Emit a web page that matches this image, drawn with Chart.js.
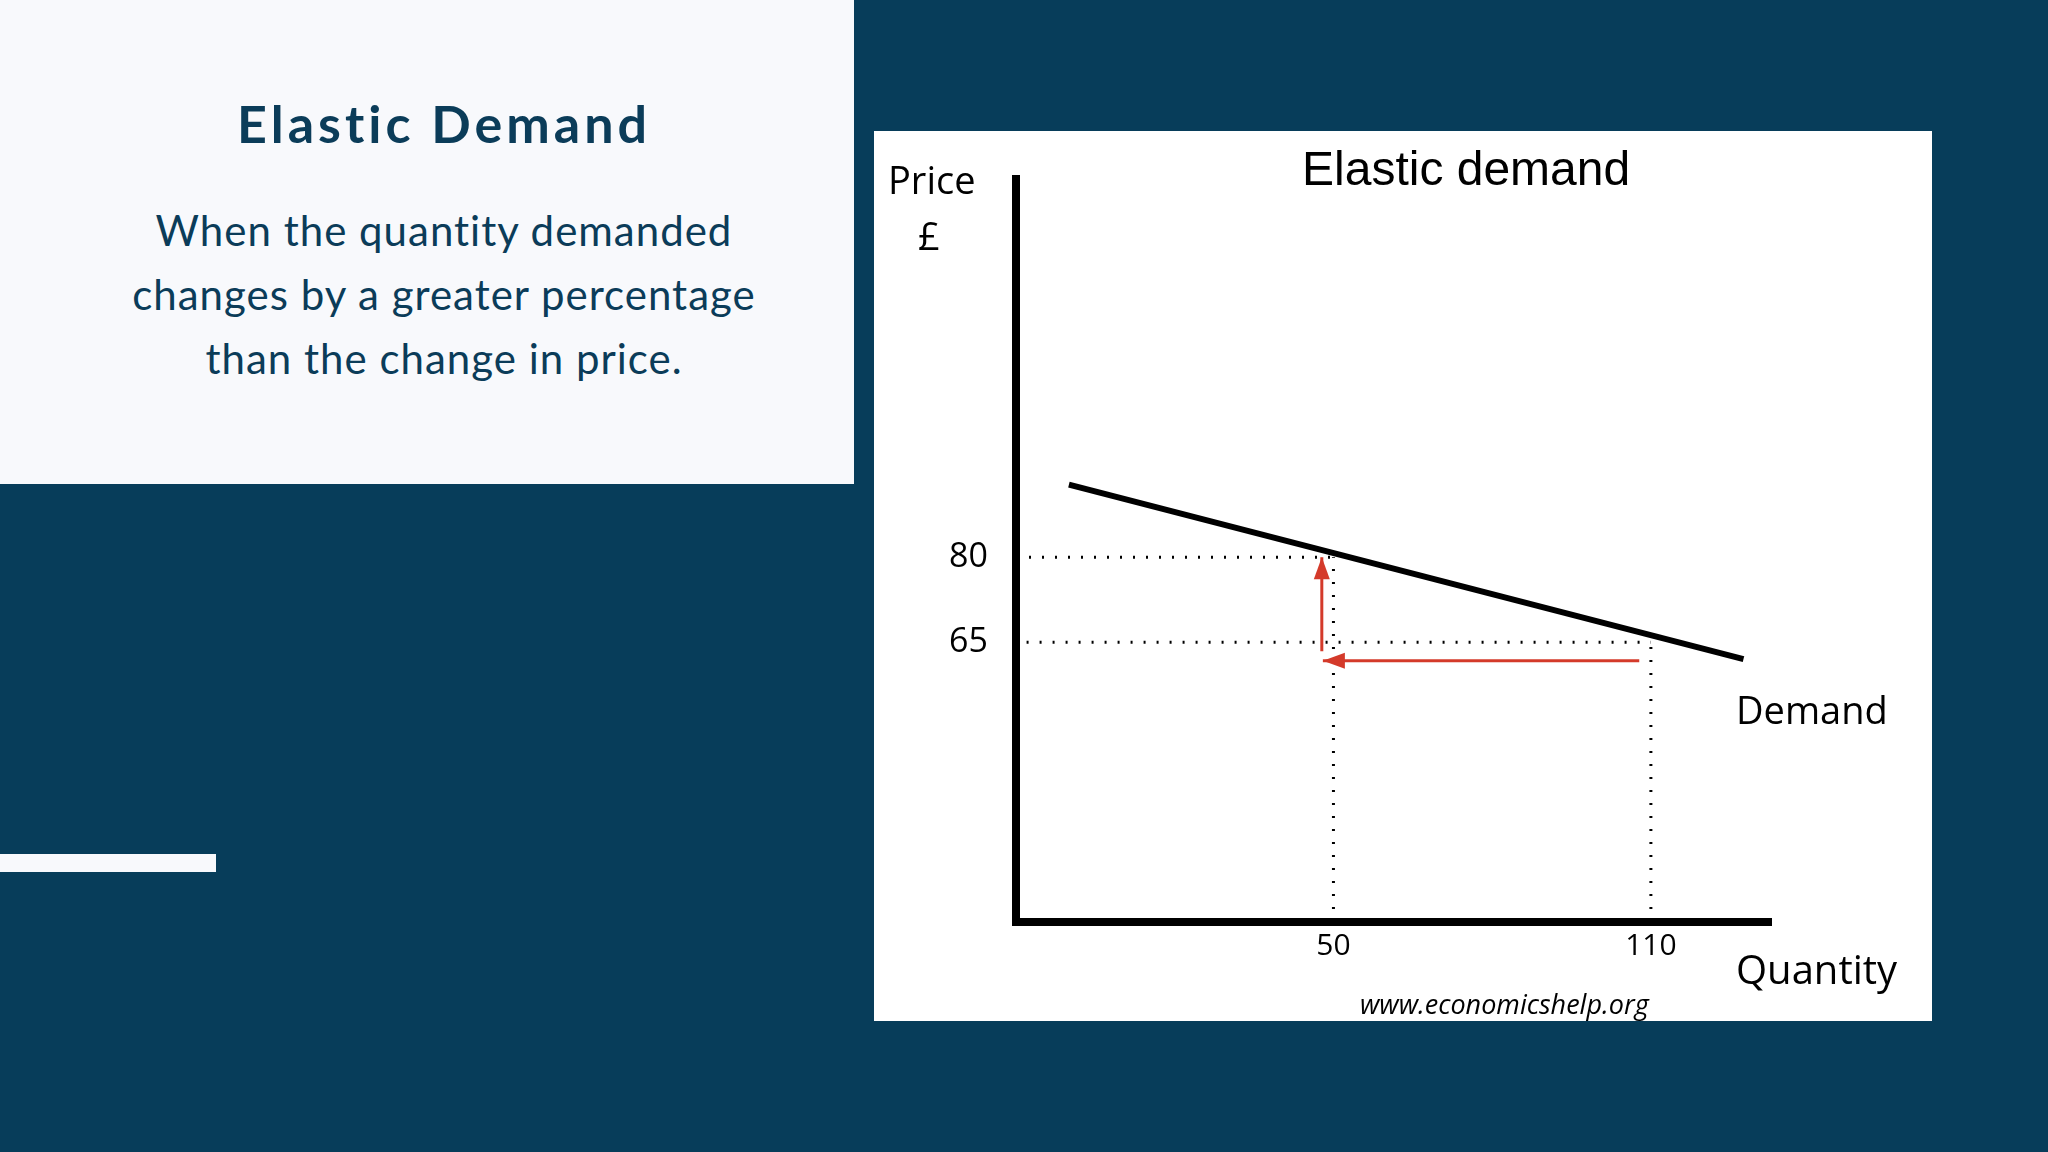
<!DOCTYPE html>
<html><head><meta charset="utf-8">
<script src="https://cdn.jsdelivr.net/npm/chart.js@4"></script>
<style>
body{margin:0;width:2048px;height:1152px;background:#073d5a;position:relative;overflow:hidden;font-family:Lato,"Open Sans",sans-serif}
#panel{position:absolute;left:0;top:0;width:854px;height:484px;background:#f8f9fc}
#h{position:absolute;left:0;width:888px;top:92px;text-align:center;font:700 52px Lato,sans-serif;letter-spacing:4px;color:#0b3c59}
#p{position:absolute;left:0;width:888px;top:198px;text-align:center;font:400 42px Lato,sans-serif;line-height:64px;color:#0b3c59;letter-spacing:1px}
#bar{position:absolute;left:0;top:854px;width:216px;height:18px;background:#f8f9fc}
#box{position:absolute;left:874px;top:131px;width:1058px;height:890px;background:#fff}
canvas{position:absolute;left:0;top:0}
.t{position:absolute;color:#000;white-space:nowrap}
</style></head><body>
<div id="panel"></div>
<div id="h">Elastic Demand</div>
<div id="p">When the quantity demanded<br>changes by a greater percentage<br>than the change in price.</div>
<div id="bar"></div>
<div id="box"><canvas id="c" width="1058" height="890"></canvas>
<div class="t" style="left:428px;top:10px;font:48px 'Liberation Sans',Arial">Elastic demand</div>
<div class="t" style="left:14px;top:22px;font:38px 'Open Sans'">Price</div>
<div class="t" style="left:44px;top:78px;font:38px 'Open Sans'">£</div>
<div class="t" style="left:862px;top:552px;font:38px 'Open Sans'">Demand</div>
<div class="t" style="left:862px;top:810px;font:40px 'Open Sans'">Quantity</div>
<div class="t" style="left:486px;top:854px;font:italic 27px 'Open Sans'">www.economicshelp.org</div>
</div>
<script>
const demandQ=[0,127.5];
const demandP=[92.8,62];
const priceLevels=[80,65];
const qtyLevels=[50,110];
const xTicks=[50,110];
const yTicks=[65,80];
const arrowUp={q:47.8,from:63.4,to:80};
const arrowLeft={p:61.7,from:107.8,to:48};
const red='#d43a2a';
const dot={borderColor:'#000',borderWidth:3,borderDash:[2,11],pointRadius:0,fill:false};
const ds=[
 {data:demandQ.map((q,i)=>({x:q,y:demandP[i]})),borderColor:'#000',borderWidth:6,pointRadius:0},
 {...dot,data:[{x:-10,y:priceLevels[0]},{x:qtyLevels[0],y:priceLevels[0]}]},
 {...dot,data:[{x:-8,y:priceLevels[1]},{x:qtyLevels[1],y:priceLevels[1]}]},
 {...dot,data:[{x:qtyLevels[0],y:15.6},{x:qtyLevels[0],y:priceLevels[0]}]},
 {...dot,data:[{x:qtyLevels[1],y:15.6},{x:qtyLevels[1],y:priceLevels[1]}]},
 {data:[{x:arrowUp.q,y:arrowUp.from},{x:arrowUp.q,y:arrowUp.to}],borderColor:red,borderWidth:3,pointRadius:0},
 {data:[{x:arrowLeft.from,y:arrowLeft.p},{x:arrowLeft.to,y:arrowLeft.p}],borderColor:red,borderWidth:3,pointRadius:0}
];
const heads={id:'heads',afterDatasetsDraw(ch){
 const x=ch.scales.x,y=ch.scales.y,c=ch.ctx;c.save();c.fillStyle=red;
 let px=x.getPixelForValue(arrowUp.q),py=y.getPixelForValue(arrowUp.to);
 c.beginPath();c.moveTo(px,py);c.lineTo(px-8,py+22);c.lineTo(px+8,py+22);c.fill();
 px=x.getPixelForValue(arrowLeft.to);py=y.getPixelForValue(arrowLeft.p);
 c.beginPath();c.moveTo(px,py);c.lineTo(px+22,py-8);c.lineTo(px+22,py+8);c.fill();c.restore();}};
new Chart(document.getElementById('c'),{type:'line',data:{datasets:ds},plugins:[heads],
options:{responsive:false,animation:false,layout:{padding:{top:26,right:161,left:0,bottom:0}},
plugins:{legend:{display:false},tooltip:{enabled:false}},
scales:{
 x:{type:'linear',min:-10,max:132.7,grid:{display:false,drawTicks:false},border:{color:'#000',width:8},
  afterBuildTicks:s=>{s.ticks=xTicks.map(v=>({value:v}))},afterFit:s=>{s.height=99},
  ticks:{color:'#000',font:{family:'Open Sans',size:30},padding:6}},
 y:{type:'linear',min:15.6,max:146.7,grid:{display:false,drawTicks:false},border:{color:'#000',width:8},
  afterBuildTicks:s=>{s.ticks=yTicks.map(v=>({value:v}))},afterFit:s=>{s.width=142},
  ticks:{color:'#000',font:{family:'Open Sans',size:34},padding:28}}
}}});
</script></body></html>
